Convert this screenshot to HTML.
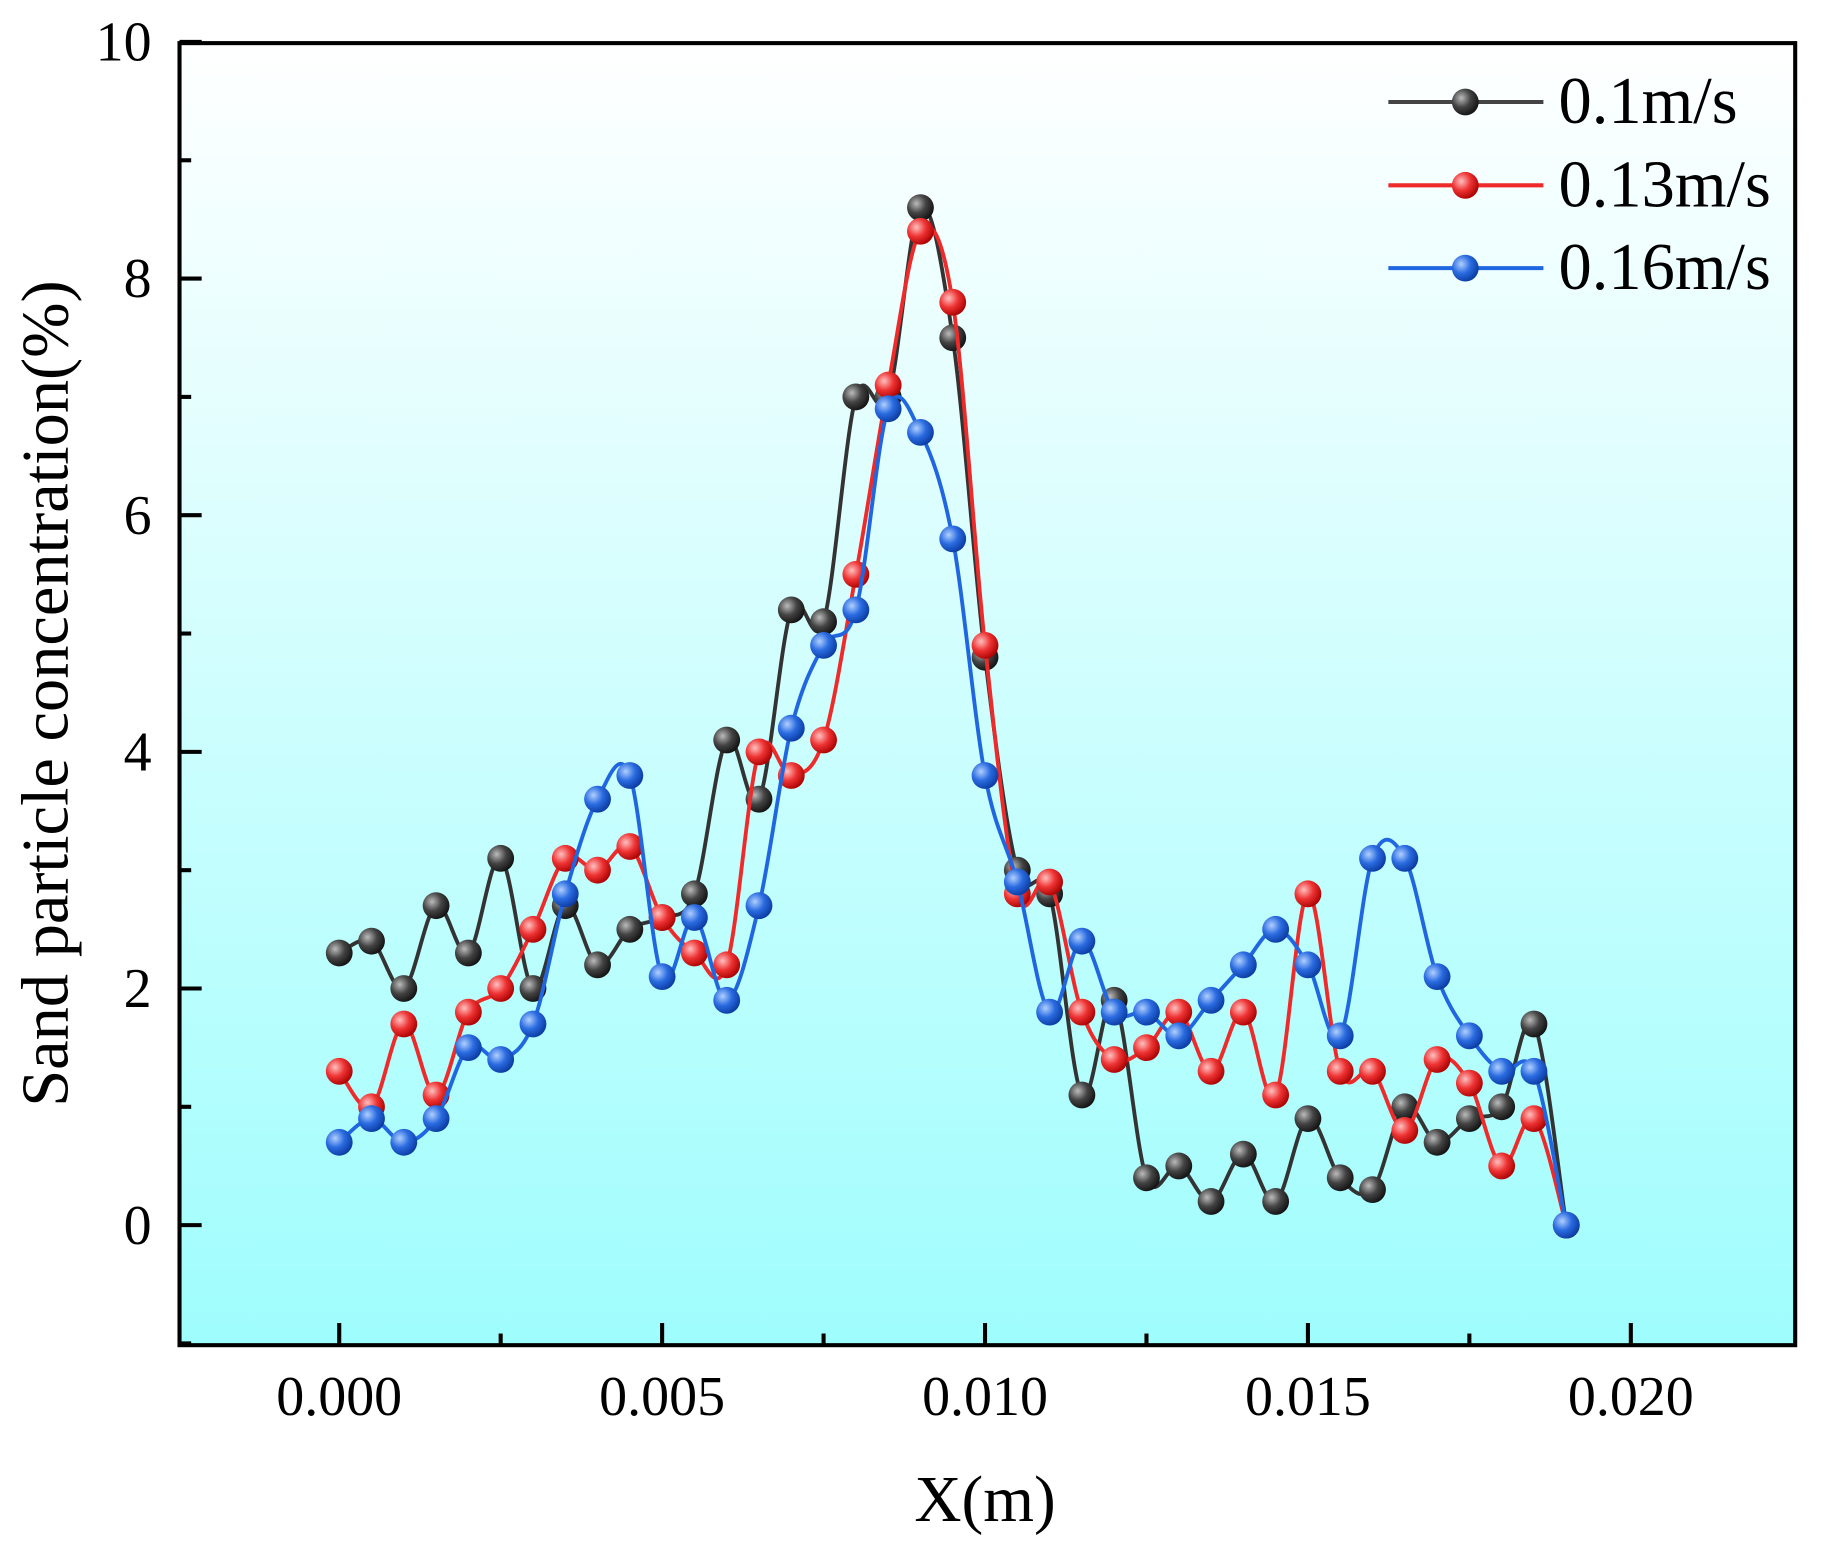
<!DOCTYPE html>
<html><head><meta charset="utf-8"><style>
html,body{margin:0;padding:0;background:#fff;}
svg{display:block;}
</style></head><body>
<svg id="s" width="1829" height="1555" viewBox="0 0 1569 1334" preserveAspectRatio="none" xmlns="http://www.w3.org/2000/svg">
<defs>
<linearGradient id="bg" x1="0" y1="0" x2="0" y2="1">
<stop offset="0" stop-color="#ffffff"/><stop offset="1" stop-color="#9ffdfd"/>
</linearGradient>
<radialGradient id="gk" cx="0.35" cy="0.35" r="0.7"><stop offset="0" stop-color="#bbbbbb"/><stop offset="0.5" stop-color="#444"/><stop offset="1" stop-color="#111"/></radialGradient>
<radialGradient id="gr" cx="0.35" cy="0.35" r="0.7"><stop offset="0" stop-color="#ffc0c0"/><stop offset="0.5" stop-color="#ee3333"/><stop offset="1" stop-color="#aa0000"/></radialGradient>
<radialGradient id="gb" cx="0.35" cy="0.35" r="0.7"><stop offset="0" stop-color="#b0d0ff"/><stop offset="0.5" stop-color="#2a6be0"/><stop offset="1" stop-color="#0a3aa0"/></radialGradient>
</defs>
<rect x="154" y="37" width="1386" height="1117" fill="url(#bg)"/>
<g id="plot"></g>
<rect x="154" y="37" width="1386" height="1117" fill="none" stroke="#000" stroke-width="3.5"/>
<g id="ticks" stroke="#000" stroke-width="3.5"></g>
<g font-family="Liberation Serif, serif" font-size="48" fill="#000" id="lab"></g>
<text x="845" y="1305" text-anchor="middle" font-family="Liberation Serif, serif" font-size="56">X(m)</text>
<text transform="translate(58,595) rotate(-90)" text-anchor="middle" font-family="Liberation Serif, serif" font-size="57">Sand particle concentration(%)</text>
<g id="leg"></g>
</svg>
<script>
var NS="http://www.w3.org/2000/svg";
function el(t,a,p){var e=document.createElementNS(NS,t);for(var k in a)e.setAttribute(k,a[k]);p.appendChild(e);return e;}
function X(i){return 291+i*27.7;}
function Y(v){return 1051-v*101.5;}
var K=[2.3,2.4,2.0,2.7,2.3,3.1,2.0,2.7,2.2,2.5,2.6,2.8,4.1,3.6,5.2,5.1,7.0,7.0,8.6,7.5,4.8,3.0,2.8,1.1,1.9,0.4,0.5,0.2,0.6,0.2,0.9,0.4,0.3,1.0,0.7,0.9,1.0,1.7,0.0];
var R=[1.3,1.0,1.7,1.1,1.8,2.0,2.5,3.1,3.0,3.2,2.6,2.3,2.2,4.0,3.8,4.1,5.5,7.1,8.4,7.8,4.9,2.8,2.9,1.8,1.4,1.5,1.8,1.3,1.8,1.1,2.8,1.3,1.3,0.8,1.4,1.2,0.5,0.9,0.0];
var B=[0.7,0.9,0.7,0.9,1.5,1.4,1.7,2.8,3.6,3.8,2.1,2.6,1.9,2.7,4.2,4.9,5.2,6.9,6.7,5.8,3.8,2.9,1.8,2.4,1.8,1.8,1.6,1.9,2.2,2.5,2.2,1.6,3.1,3.1,2.1,1.6,1.3,1.3,0.0];
var plot=document.getElementById('plot');
function series(d,col,g){
 var p=d.map(function(v,i){return [X(i),Y(v)];});
 var s="M"+p[0][0]+","+p[0][1];
 for(var i=0;i<p.length-1;i++){
  var p0=p[Math.max(i-1,0)],p1=p[i],p2=p[i+1],p3=p[Math.min(i+2,p.length-1)];
  s+=" C"+(p1[0]+(p2[0]-p0[0])/6)+","+(p1[1]+(p2[1]-p0[1])/6)+" "+(p2[0]-(p3[0]-p1[0])/6)+","+(p2[1]-(p3[1]-p1[1])/6)+" "+p2[0]+","+p2[1];
 }
 el('path',{d:s,fill:'none',stroke:col,'stroke-width':3.3},plot);
 p.forEach(function(q){el('circle',{cx:q[0],cy:q[1],r:11.5,fill:'url(#'+g+')'},plot);});
}
series(K,'#333','gk');series(R,'#ee2a2a','gr');series(B,'#1f66e0','gb');
var tk=document.getElementById('ticks'),lab=document.getElementById('lab');
for(var v=-1;v<=10;v++){var y=Y(v);el('line',{x1:154,x2:v%2==0?173:164,y1:y,y2:y},tk);
 if(v>=0&&v%2==0){var t=el('text',{x:130,y:y+16,'text-anchor':'end'},lab);t.textContent=v;}}
for(var j=-5;j<=44;j++){var x=291+j*27.7;if(x<156||x>1538)continue;if(j%5!=0)continue;
 var maj=j%10==0;el('line',{x1:x,x2:x,y1:1154,y2:maj?1135:1144},tk);
 if(maj){var t=el('text',{x:x,y:1214,'text-anchor':'middle'},lab);t.textContent=(j*0.0005).toFixed(3);}}
var leg=document.getElementById('leg');
[['#444','gk','0.1m/s',87.5],['#ee2a2a','gr','0.13m/s',159],['#1f66e0','gb','0.16m/s',230]].forEach(function(a){
 el('line',{x1:1191,x2:1324,y1:a[3],y2:a[3],stroke:a[0],'stroke-width':3.5},leg);
 el('circle',{cx:1257,cy:a[3],r:11.5,fill:'url(#'+a[1]+')'},leg);
 var t=el('text',{x:1337,y:a[3]+18,'font-family':'Liberation Serif, serif','font-size':57},leg);t.textContent=a[2];
});
</script>
</body></html>
